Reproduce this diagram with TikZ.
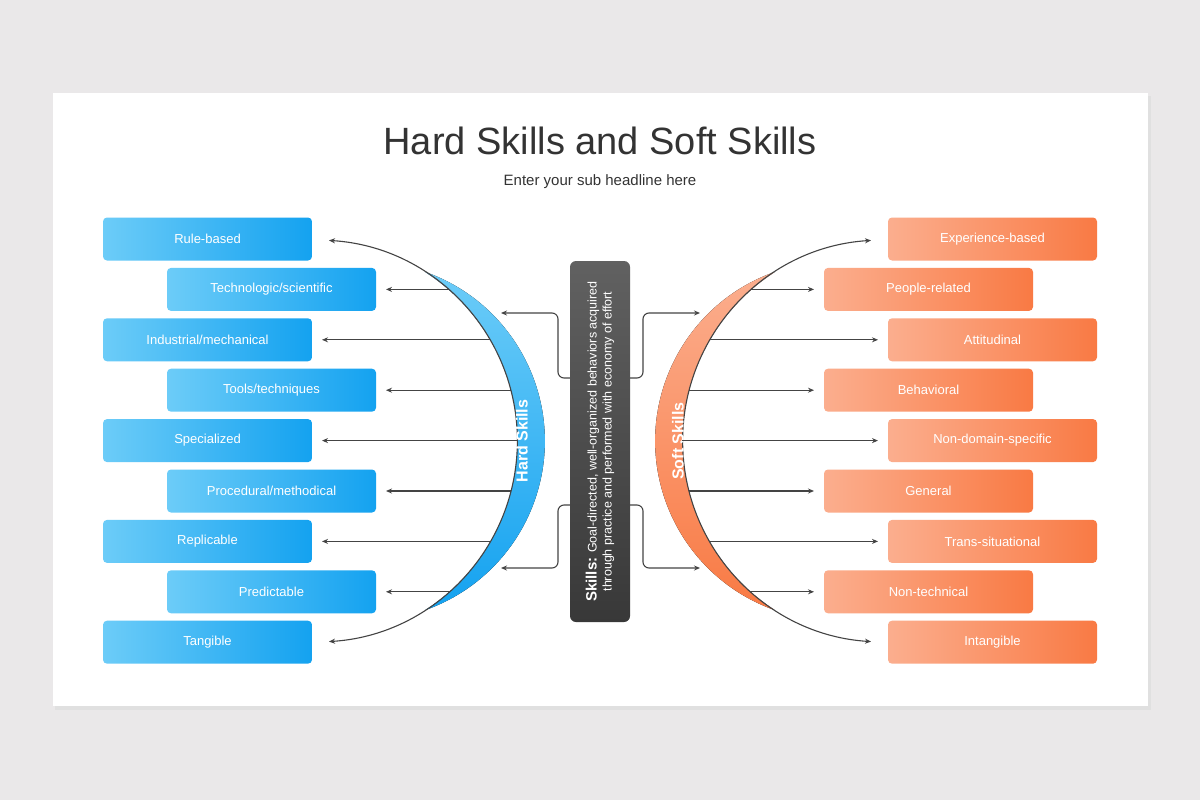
\documentclass[tikz,border=0pt]{standalone}
\usepackage{fontspec}
\setmainfont{Liberation Sans}
\usetikzlibrary{arrows.meta}
\definecolor{bgc}{HTML}{EAE8E9}
\definecolor{bl1}{HTML}{6CCCF8}
\definecolor{bl2}{HTML}{14A2F0}
\definecolor{or1}{HTML}{FBAE8E}
\definecolor{or2}{HTML}{F97A44}
\definecolor{ttl}{HTML}{333333}
\definecolor{ln}{HTML}{444444}
\tikzset{
 hbox/.style={rounded corners=4pt,minimum width=209pt,minimum height=43pt,left color=bl1,right color=bl2,text=white,font=\fontsize{13}{15}\selectfont,inner sep=0pt},
 sbox/.style={rounded corners=4pt,minimum width=209pt,minimum height=43pt,left color=or1,right color=or2,text=white,font=\fontsize{13}{15}\selectfont,inner sep=0pt},
 conn/.style={draw=ln,line width=1.1pt,-{Stealth[length=6pt,width=5pt]}},
}
\begin{document}
\begin{tikzpicture}[x=1pt,y=-1pt]
\fill[bgc] (0,0) rectangle (1200,800);
\useasboundingbox (0,0) rectangle (1200,800);
\fill[black!12] (55,96) rectangle (1151,710);
\fill[white] (53,93) rectangle (1148,706);
\node[text=ttl,font=\fontsize{38}{44}\selectfont] (title) at (600,141) {Hard Skills and Soft Skills};
\node[text=ttl,font=\fontsize{15}{18}\selectfont] (sub) at (600,182) {Enter your sub headline here};
\fill[top color=bl1,bottom color=bl2] (425.4,272) arc[start angle=-70.5,end angle=70.5,radius=179.3] arc[start angle=57.2,end angle=-57.2,radius=201];
\fill[top color=or1,bottom color=or2] (774.6,272) arc[start angle=250.5,end angle=109.5,radius=179.3] arc[start angle=122.8,end angle=237.2,radius=201];
\draw[ln,line width=1.1pt,{Stealth[length=6pt,width=5pt]}-{Stealth[length=6pt,width=5pt]}] (329,240.4) arc[start angle=-86.4,end angle=86.4,radius=201];
\draw[ln,line width=1.1pt,{Stealth[length=6pt,width=5pt]}-{Stealth[length=6pt,width=5pt]}] (871,240.4) arc[start angle=266.4,end angle=93.6,radius=201];
\node[text=white,font=\bfseries\fontsize{16}{19}\selectfont,rotate=90] (hs) at (522,441) {Hard Skills};
\node[text=white,font=\bfseries\fontsize{16}{19}\selectfont,rotate=90] (ss) at (678,441) {Soft Skills};
\foreach \t [count=\i from 0] in {Rule-based,Technologic/scientific,Industrial/mechanical,Tools/techniques,Specialized,Procedural/methodical,Replicable,Predictable,Tangible}{
  \pgfmathsetmacro{\yy}{239+50.4*\i}
  \pgfmathsetmacro{\xx}{isodd(\i)?271.5:207.5}
  \pgfmathsetmacro{\ax}{isodd(\i)?386:322}
  \pgfmathsetmacro{\sx}{316.7+100*sqrt(max(0,4.0401-((\yy-441)/100)^2))}
  \node[hbox] (h\i) at (\xx,\yy) {\t};
  \ifnum\i>0\ifnum\i<8
  \coordinate (ha\i) at (\sx,\yy);
  \coordinate (hb\i) at (\ax,\yy);
  \draw[conn] (ha\i) -- (hb\i);
  \fi\fi
}
\foreach \t [count=\i from 0] in {Experience-based,People-related,Attitudinal,Behavioral,Non-domain-specific,General,Trans-situational,Non-technical,Intangible}{
  \pgfmathsetmacro{\yy}{239+50.4*\i}
  \pgfmathsetmacro{\xx}{isodd(\i)?928.5:992.5}
  \pgfmathsetmacro{\ax}{isodd(\i)?814:878}
  \pgfmathsetmacro{\sx}{883.3-100*sqrt(max(0,4.0401-((\yy-441)/100)^2))}
  \node[sbox] (s\i) at (\xx,\yy) {\t};
  \ifnum\i>0\ifnum\i<8
  \coordinate (sa\i) at (\sx,\yy);
  \coordinate (sb\i) at (\ax,\yy);
  \draw[conn] (sa\i) -- (sb\i);
  \fi\fi
}
\node[rounded corners=6pt,minimum width=60pt,minimum height=361pt,top color=black!62,bottom color=black!78,inner sep=0pt] (bar) at (600,441.5) {};
\node[rotate=90,text=white,align=center,font=\fontsize{12.5}{15}\selectfont] (bt) at (600,441.5) {{\bfseries\fontsize{15}{15}\selectfont Skills:} Goal-directed, well-organized behaviors acquired\\through practice and performed with economy of effort};
\coordinate (c1) at (501,313); \coordinate (c2) at (501,568);
\coordinate (c3) at (700,313); \coordinate (c4) at (700,568);
\draw[conn,rounded corners=6pt] (bar.west |- 0,378) -| (558,313) -- (c1);
\draw[conn,rounded corners=6pt] (bar.west |- 0,505) -| (558,568) -- (c2);
\draw[conn,rounded corners=6pt] (bar.east |- 0,378) -| (643,313) -- (c3);
\draw[conn,rounded corners=6pt] (bar.east |- 0,505) -| (643,568) -- (c4);
\end{tikzpicture}
\end{document}
